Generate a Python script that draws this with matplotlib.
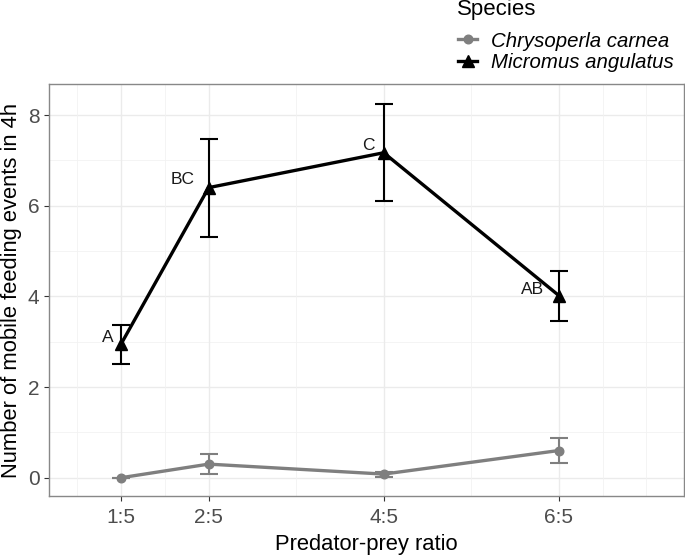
import matplotlib
matplotlib.use("Agg")
import matplotlib.pyplot as plt
from matplotlib.lines import Line2D

plt.rcParams['font.family'] = ['Liberation Sans', 'DejaVu Sans']

ratios = [1, 2, 4, 6]
ratio_labels = ["1:5", "2:5", "4:5", "6:5"]
species = ["Chrysoperla carnea", "Micromus angulatus"]

carnea_mean = [0.0, 0.30, 0.08, 0.60]
carnea_lo = [0.0, 0.09, 0.02, 0.32]
carnea_hi = [0.0, 0.52, 0.13, 0.88]

micromus_mean = [2.95, 6.40, 7.17, 4.02]
micromus_lo = [2.50, 5.32, 6.10, 3.45]
micromus_hi = [3.37, 7.47, 8.25, 4.57]

letters = ["A", "BC", "C", "AB"]
letter_x = [0.85, 1.70, 3.82, 5.70]
letter_y = [3.10, 6.58, 7.34, 4.15]

W, H = 685, 559
fig = plt.figure(figsize=(W / 100, H / 100), dpi=100)
ax = fig.add_axes([49.3 / W, 1 - 496.3 / H, (684 - 49.3) / W, (496.3 - 84.3) / H])

grey = "#7F7F7F"
for y in [1, 3, 5, 7]:
    ax.axhline(y, color="#F2F2F2", lw=0.6, zorder=0)
for y in [0, 2, 4, 6, 8]:
    ax.axhline(y, color="#EBEBEB", lw=1.0, zorder=0)
for x in [0.5, 1.5, 3, 5, 6.5, 7]:
    ax.axvline(x, color="#F2F2F2", lw=0.6, zorder=0)
for x in ratios:
    ax.axvline(x, color="#EBEBEB", lw=1.0, zorder=0)

def draw(mean, lo, hi, color, marker, ms):
    yerr = [[m - l for m, l in zip(mean, lo)], [h - m for m, h in zip(mean, hi)]]
    ax.errorbar(ratios, mean, yerr=yerr, fmt='none', ecolor=color, elinewidth=1.5,
                capsize=6.3, capthick=1.5, zorder=2)
    ax.plot(ratios, mean, color=color, lw=2.4, marker=marker, ms=ms, zorder=3)

draw(carnea_mean, carnea_lo, carnea_hi, grey, 'o', 6.2)
draw(micromus_mean, micromus_lo, micromus_hi, "black", '^', 9)

for t, x, y in zip(letters, letter_x, letter_y):
    ax.text(x, y, t, fontsize=12.5, color="#1A1A1A", ha="center", va="center", zorder=4)

ax.set_xlim(0.18, 7.43)
ax.set_ylim(-0.41, 8.68)
ax.set_xticks(ratios)
ax.set_xticklabels(ratio_labels)
ax.set_yticks([0, 2, 4, 6, 8])
ax.tick_params(axis='both', labelsize=15, labelcolor="#4D4D4D", color="#333333",
               length=3.5, width=0.8)
ax.tick_params(axis='x', pad=5)
for s in ax.spines.values():
    s.set_color("#888888")
    s.set_linewidth(1.0)

ax.set_xlabel("Predator-prey ratio", fontsize=15.8, color="black", labelpad=5)
ax.set_ylabel("Number of mobile feeding events in 4h", fontsize=15.8, color="black", labelpad=4)

fig.text(457 / W, 1 - 10 / H, "Species", fontsize=16, ha="left", va="center")
handles = [
    Line2D([], [], color=grey, lw=2.4, marker='o', ms=6.2),
    Line2D([], [], color="black", lw=2.4, marker='^', ms=9),
]
fig.legend(handles, species, loc="center left", bbox_to_anchor=(458 / W, 1 - 52 / H),
           frameon=False, prop={'style': 'italic', 'size': 14.7}, handlelength=0.95,
           handletextpad=0.65, labelspacing=0.14, borderaxespad=0, borderpad=0)

fig.savefig("out.png", dpi=100)
